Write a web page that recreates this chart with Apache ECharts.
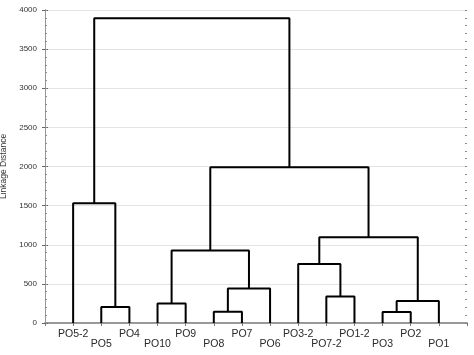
<!DOCTYPE html>
<html>
<head>
<meta charset="utf-8">
<script src="https://cdn.jsdelivr.net/npm/echarts@6/dist/echarts.min.js"></script>
<style>
  html, body { margin: 0; padding: 0; background: #fff; }
  #chart { width: 474px; height: 355px; }
</style>
</head>
<body>
<div id="chart"></div>
<script>
// leaves in dendrogram order
const leaves = ['PO5-2', 'PO5', 'PO4', 'PO10', 'PO9', 'PO8', 'PO7', 'PO6',
  'PO3-2', 'PO7-2', 'PO1-2', 'PO3', 'PO2', 'PO1'];
// merges: [left id, right id] -> new id = 14 + index
const mergeLeft = [11, 5, 1, 3, 14, 9, 15, 8, 17, 21, 0, 22, 24];
const mergeRight = [12, 6, 2, 4, 13, 10, 7, 19, 20, 18, 16, 23, 25];
const mergeHeight = [140, 145, 205, 250, 280, 340, 440, 755, 925, 1095, 1530, 1990, 3895];
const yTicks = [0, 500, 1000, 1500, 2000, 2500, 3000, 3500, 4000];

// node positions
const posX = leaves.map((v, i) => i + 1);
const posH = leaves.map(() => 0);
const series = [];
mergeLeft.forEach((a, k) => {
  const b = mergeRight[k];
  const h = mergeHeight[k];
  posX.push((posX[a] + posX[b]) / 2);
  posH.push(h);
  series.push({
    type: 'line',
    data: [[posX[a], posH[a]], [posX[a], h], [posX[b], h], [posX[b], posH[b]]],
    symbol: 'none',
    lineStyle: { color: '#000', width: 2 },
    silent: true,
    animation: false
  });
});

// small inside ticks every 100
function fineAxis(pos) {
  return {
    type: 'value', min: 0, max: 4000, interval: 100,
    position: pos, offset: 0,
    axisLine: { show: false },
    axisTick: { show: true, inside: true, length: 2, lineStyle: { color: '#888' } },
    splitLine: { show: false },
    axisLabel: { show: false }
  };
}

const myChart = echarts.init(document.getElementById('chart'));
const font = 'Liberation Sans, Arial, sans-serif';
const option = {
  animation: false,
  grid: { left: 45, right: 7, top: 10, bottom: 32, outerBoundsMode: 'none', containLabel: false },
  xAxis: [
    {
      type: 'value', min: 0, max: leaves.length + 1, interval: 1,
      position: 'bottom',
      axisLine: { lineStyle: { color: '#444', width: 1 } },
      axisTick: { show: false },
      splitLine: { show: false },
      axisLabel: {
        margin: 6,
        fontFamily: font, fontSize: 10.5, color: '#2a2a2a', lineHeight: 10,
        showMinLabel: true, showMaxLabel: true,
        formatter: (v) => {
          const i = Math.round(v) - 1;
          if (i < 0 || i >= leaves.length) return '';
          return i % 2 === 0 ? leaves[i] : '\n' + leaves[i];
        }
      }
    },
    {
      type: 'value', min: 0, max: leaves.length + 1, interval: 1,
      position: 'top',
      axisLine: { lineStyle: { color: '#999', width: 2 } },
      axisTick: { inside: true, length: 3, lineStyle: { color: '#777' } },
      splitLine: { show: false },
      axisLabel: { show: false }
    }
  ],
  yAxis: [
    {
      type: 'value', min: 0, max: 4000, interval: 500,
      name: 'Linkage Distance', nameLocation: 'middle', nameGap: 31,
      nameTextStyle: { fontFamily: font, fontSize: 8.5, color: '#333' },
      axisLine: { show: true, lineStyle: { color: '#444', width: 1 } },
      axisTick: { show: true, inside: true, length: 3, lineStyle: { color: '#666' } },
      splitLine: { lineStyle: { color: '#e3e3e3', width: 1 } },
      axisLabel: {
        fontFamily: font, fontSize: 8, color: '#333', margin: 8,
        formatter: (v) => (yTicks.indexOf(v) >= 0 ? String(v) : '')
      }
    },
    {
      type: 'value', min: 0, max: 4000, interval: 500,
      position: 'right',
      axisLine: { show: true, lineStyle: { color: '#999', width: 1 } },
      axisTick: { show: true, inside: true, length: 3, lineStyle: { color: '#666' } },
      splitLine: { show: false },
      axisLabel: { show: false }
    },
    fineAxis('left'),
    fineAxis('right')
  ],
  series: series
};
myChart.setOption(option, true);
</script>
</body>
</html>
